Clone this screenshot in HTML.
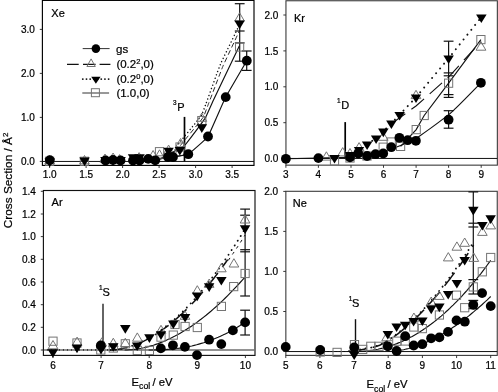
<!DOCTYPE html>
<html><head><meta charset="utf-8"><title>Cross sections</title>
<style>html,body{margin:0;padding:0;background:#fff;}svg{display:block;filter:blur(0.4px);}text{font-family:"Liberation Sans", sans-serif;fill:#000;stroke:#000;stroke-width:.22px;}</style>
</head><body>
<svg width="498" height="392" viewBox="0 0 498 392">
<rect width="498" height="392" fill="#fff"/>
<rect x="42.4" y="0.4" width="211.6" height="165.0" fill="none" stroke="#000" stroke-width="1.15"/>
<path d="M49.6 165.4v2.6" stroke="#222" stroke-width="0.9"/>
<text x="49.6" y="178.2" font-size="10" text-anchor="middle" >1.0</text>
<path d="M86.1 165.4v2.6" stroke="#222" stroke-width="0.9"/>
<text x="86.1" y="178.2" font-size="10" text-anchor="middle" >1.5</text>
<path d="M122.6 165.4v2.6" stroke="#222" stroke-width="0.9"/>
<text x="122.6" y="178.2" font-size="10" text-anchor="middle" >2.0</text>
<path d="M159.1 165.4v2.6" stroke="#222" stroke-width="0.9"/>
<text x="159.1" y="178.2" font-size="10" text-anchor="middle" >2.5</text>
<path d="M195.6 165.4v2.6" stroke="#222" stroke-width="0.9"/>
<text x="195.6" y="178.2" font-size="10" text-anchor="middle" >3.0</text>
<path d="M232.1 165.4v2.6" stroke="#222" stroke-width="0.9"/>
<text x="232.1" y="178.2" font-size="10" text-anchor="middle" >3.5</text>
<path d="M42.4 161.4h-2.6" stroke="#222" stroke-width="0.9"/>
<text x="34.8" y="165.0" font-size="10" text-anchor="end" >0.0</text>
<path d="M42.4 117.4h-2.6" stroke="#222" stroke-width="0.9"/>
<text x="34.8" y="121.0" font-size="10" text-anchor="end" >1.0</text>
<path d="M42.4 73.4h-2.6" stroke="#222" stroke-width="0.9"/>
<text x="34.8" y="77.0" font-size="10" text-anchor="end" >2.0</text>
<path d="M42.4 29.4h-2.6" stroke="#222" stroke-width="0.9"/>
<text x="34.8" y="33.0" font-size="10" text-anchor="end" >3.0</text>
<path d="M42.4 161.45H254.0" stroke="#111" stroke-width="1.0"/>
<text x="51.3" y="17.1" font-size="11" text-anchor="start" >Xe</text>
<path d="M184.5 116.9V161.4" stroke="#000" stroke-width="1.7"/>
<text x="177.2" y="111.0" font-size="11" text-anchor="start" >P</text>
<text x="172.9" y="105.4" font-size="6.4" text-anchor="start" >3</text>
<path d="M148.2 158.9L155.2 160.3L168.0 157.0L173.0 157.0L188.3 154.2" fill="none" stroke="#111" stroke-width="1.15"/>
<path d="M173.0 157.0C173.6 156.9 186.9 155.0 188.3 154.2C189.7 153.4 206.5 138.8 208.0 136.5C209.5 134.2 224.1 100.1 225.7 97.1C227.3 94.1 246.0 62.2 246.8 60.7" fill="none" stroke="#111" stroke-width="1.15"/>
<path d="M170.0 159.5C170.3 158.9 177.5 145.2 178.6 143.7C179.7 142.2 196.1 122.2 197.0 121.1C197.9 120.0 201.2 115.8 201.6 115.1C202.0 114.4 205.5 105.0 206.2 103.0C206.9 101.0 219.0 67.6 220.3 64.5C221.6 61.4 238.2 27.5 238.9 26.0" fill="none" stroke="#111" stroke-width="1.5" stroke-dasharray="0.01 3.6" stroke-linecap="round"/>
<path d="M172.0 159.5C172.3 158.9 179.5 146.8 180.6 145.3C181.7 143.8 198.1 123.8 199.0 122.7C199.9 121.6 203.2 117.5 203.6 116.7C204.0 115.9 208.0 105.0 208.8 103.0C209.6 101.0 221.6 69.4 222.8 66.5C224.0 63.6 238.7 32.4 239.4 31.0" fill="none" stroke="#111" stroke-width="0.9" stroke-dasharray="5 3"/>
<path d="M160.0 159.0C161.0 158.5 182.9 146.9 184.4 145.6C185.9 144.3 197.6 128.6 198.5 127.4C199.4 126.2 205.4 117.7 206.0 116.6C206.6 115.5 212.2 102.8 213.5 100.0C214.8 97.2 238.3 48.2 239.3 46.0" fill="none" stroke="#111" stroke-width="1.15"/>
<path d="M239.7 3.7V61.2" stroke="#111" stroke-width="1.2" fill="none"/>
<path d="M234.8 3.7H244.6" stroke="#111" stroke-width="1.2" fill="none"/>
<path d="M234.8 31.0H244.6" stroke="#111" stroke-width="1.2" fill="none"/>
<path d="M234.8 42.9H244.6" stroke="#111" stroke-width="1.2" fill="none"/>
<path d="M234.8 61.2H244.6" stroke="#111" stroke-width="1.2" fill="none"/>
<path d="M246.7 51.0V70.4" stroke="#111" stroke-width="1.2" fill="none"/>
<path d="M241.8 51.0H251.6" stroke="#111" stroke-width="1.2" fill="none"/>
<path d="M241.8 70.4H251.6" stroke="#111" stroke-width="1.2" fill="none"/>
<rect x="45.5" y="157.2" width="8.2" height="8.2" fill="none" stroke="#747474" stroke-width="1.0"/>
<rect x="80.3" y="157.2" width="8.2" height="8.2" fill="none" stroke="#747474" stroke-width="1.0"/>
<rect x="155.4" y="147.6" width="8.2" height="8.2" fill="none" stroke="#747474" stroke-width="1.0"/>
<rect x="175.9" y="142.9" width="8.2" height="8.2" fill="none" stroke="#747474" stroke-width="1.0"/>
<rect x="197.7" y="116.5" width="8.2" height="8.2" fill="none" stroke="#747474" stroke-width="1.0"/>
<rect x="235.5" y="42.9" width="8.2" height="8.2" fill="none" stroke="#747474" stroke-width="1.0"/>
<path d="M49.6 155.5L54.5 163.8L44.8 163.8Z" fill="none" stroke="#747474" stroke-width="1.0"/>
<path d="M84.5 155.5L89.3 163.8L79.7 163.8Z" fill="none" stroke="#747474" stroke-width="1.0"/>
<path d="M105.0 154.0L109.8 162.3L100.2 162.3Z" fill="none" stroke="#747474" stroke-width="1.0"/>
<path d="M113.1 153.0L117.9 161.3L108.2 161.3Z" fill="none" stroke="#747474" stroke-width="1.0"/>
<path d="M119.6 154.6L124.4 162.9L114.8 162.9Z" fill="none" stroke="#747474" stroke-width="1.0"/>
<path d="M139.1 152.6L143.9 160.9L134.2 160.9Z" fill="none" stroke="#747474" stroke-width="1.0"/>
<path d="M153.1 150.5L157.9 158.8L148.2 158.8Z" fill="none" stroke="#747474" stroke-width="1.0"/>
<path d="M159.5 149.8L164.3 158.1L154.7 158.1Z" fill="none" stroke="#747474" stroke-width="1.0"/>
<path d="M168.6 145.1L173.4 153.4L163.8 153.4Z" fill="none" stroke="#747474" stroke-width="1.0"/>
<path d="M180.6 138.5L185.4 146.8L175.8 146.8Z" fill="none" stroke="#747474" stroke-width="1.0"/>
<path d="M201.8 113.0L206.7 121.3L197.0 121.3Z" fill="none" stroke="#747474" stroke-width="1.0"/>
<path d="M239.6 12.8L244.4 21.1L234.8 21.1Z" fill="none" stroke="#747474" stroke-width="1.0"/>
<path d="M44.5 158.6L55.0 158.6L49.7 167.2Z" fill="#000"/>
<path d="M79.3 157.6L89.8 157.6L84.6 166.2Z" fill="#000"/>
<path d="M100.2 157.0L110.8 157.0L105.5 165.6Z" fill="#000"/>
<path d="M107.8 157.0L118.2 157.0L113.0 165.6Z" fill="#000"/>
<path d="M115.2 157.0L125.8 157.0L120.5 165.6Z" fill="#000"/>
<path d="M127.8 154.2L138.2 154.2L133.0 162.8Z" fill="#000"/>
<path d="M134.2 154.2L144.8 154.2L139.5 162.8Z" fill="#000"/>
<path d="M163.3 147.7L173.8 147.7L168.6 156.3Z" fill="#000"/>
<path d="M174.6 147.0L185.1 147.0L179.8 155.6Z" fill="#000"/>
<path d="M196.6 124.3L207.1 124.3L201.8 132.9Z" fill="#000"/>
<path d="M234.3 20.6L244.8 20.6L239.6 29.2Z" fill="#000"/>
<circle cx="49.8" cy="160.1" r="4.9" fill="#000"/>
<circle cx="105.5" cy="160.5" r="4.9" fill="#000"/>
<circle cx="113.0" cy="160.0" r="4.9" fill="#000"/>
<circle cx="120.5" cy="160.5" r="4.9" fill="#000"/>
<circle cx="133.0" cy="160.5" r="4.9" fill="#000"/>
<circle cx="139.5" cy="160.5" r="4.9" fill="#000"/>
<circle cx="148.2" cy="158.9" r="4.9" fill="#000"/>
<circle cx="155.2" cy="160.3" r="4.9" fill="#000"/>
<circle cx="168.0" cy="157.0" r="4.9" fill="#000"/>
<circle cx="173.0" cy="157.0" r="4.9" fill="#000"/>
<circle cx="188.3" cy="154.2" r="4.9" fill="#000"/>
<circle cx="208.0" cy="136.5" r="4.9" fill="#000"/>
<circle cx="225.7" cy="97.1" r="4.9" fill="#000"/>
<circle cx="246.8" cy="60.7" r="4.9" fill="#000"/>
<path d="M82.7 48.6L109.6 48.6" fill="none" stroke="#333" stroke-width="1.0"/>
<circle cx="95.9" cy="48.6" r="4.3" fill="#000"/>
<path d="M67 64.4H78.7M83 64.4H95.6M99.6 64.4H110.4" stroke="#111" stroke-width="1.1"/>
<path d="M91.1 58.9L95.3 66.5L86.9 66.5Z" fill="none" stroke="#747474" stroke-width="1.0"/>
<path d="M82.8 79.1L110.5 79.1" fill="none" stroke="#111" stroke-width="1.9" stroke-dasharray="0.01 3.68" stroke-linecap="round"/>
<path d="M91.2 76.8L100.6 76.8L95.9 83.8Z" fill="#000"/>
<path d="M82.3 93.0L109.1 93.0" fill="none" stroke="#333" stroke-width="1.0"/>
<rect x="91.4" y="88.7" width="8.0" height="8.0" fill="none" stroke="#747474" stroke-width="1.0"/>
<text x="116.0" y="52.5" font-size="11.5" text-anchor="start" >gs</text>
<text x="116.4" y="68.4" font-size="11.5" text-anchor="start" >(0.2<tspan font-size="7.5" dy="-4.2">2</tspan><tspan dy="4.2">,0)</tspan></text>
<text x="116.4" y="83.3" font-size="11.5" text-anchor="start" >(0.2<tspan font-size="7.5" dy="-4.2">0</tspan><tspan dy="4.2">,0)</tspan></text>
<text x="116.4" y="97.0" font-size="11.5" text-anchor="start" >(1.0,0)</text>
<rect x="285.95" y="0.75" width="211.4" height="164.4" fill="none" stroke="#3a3a3a" stroke-width="1.1"/>
<path d="M285.9 165.2v2.6" stroke="#222" stroke-width="0.9"/>
<text x="285.9" y="178.0" font-size="10" text-anchor="middle" >3</text>
<path d="M318.4 165.2v2.6" stroke="#222" stroke-width="0.9"/>
<text x="318.4" y="178.0" font-size="10" text-anchor="middle" >4</text>
<path d="M351.0 165.2v2.6" stroke="#222" stroke-width="0.9"/>
<text x="351.0" y="178.0" font-size="10" text-anchor="middle" >5</text>
<path d="M383.5 165.2v2.6" stroke="#222" stroke-width="0.9"/>
<text x="383.5" y="178.0" font-size="10" text-anchor="middle" >6</text>
<path d="M416.1 165.2v2.6" stroke="#222" stroke-width="0.9"/>
<text x="416.1" y="178.0" font-size="10" text-anchor="middle" >7</text>
<path d="M448.6 165.2v2.6" stroke="#222" stroke-width="0.9"/>
<text x="448.6" y="178.0" font-size="10" text-anchor="middle" >8</text>
<path d="M481.2 165.2v2.6" stroke="#222" stroke-width="0.9"/>
<text x="481.2" y="178.0" font-size="10" text-anchor="middle" >9</text>
<path d="M285.95 158.6h-2.6" stroke="#222" stroke-width="0.9"/>
<text x="278.3" y="162.2" font-size="10" text-anchor="end" >0.0</text>
<path d="M285.95 122.7h-2.6" stroke="#222" stroke-width="0.9"/>
<text x="278.3" y="126.3" font-size="10" text-anchor="end" >0.5</text>
<path d="M285.95 86.8h-2.6" stroke="#222" stroke-width="0.9"/>
<text x="278.3" y="90.4" font-size="10" text-anchor="end" >1.0</text>
<path d="M285.95 50.9h-2.6" stroke="#222" stroke-width="0.9"/>
<text x="278.3" y="54.5" font-size="10" text-anchor="end" >1.5</text>
<path d="M285.95 15.0h-2.6" stroke="#222" stroke-width="0.9"/>
<text x="278.3" y="18.6" font-size="10" text-anchor="end" >2.0</text>
<path d="M285.95 158.45H497.3" stroke="#111" stroke-width="1.0"/>
<text x="294.0" y="22.2" font-size="11" text-anchor="start" >Kr</text>
<path d="M345.2 122.1V158.6" stroke="#000" stroke-width="1.7"/>
<text x="341.2" y="109.2" font-size="11" text-anchor="start" >D</text>
<text x="337.0" y="102.9" font-size="6.5" text-anchor="start" >1</text>
<path d="M285.9 158.8L318.4 158.1L350.0 157.4L358.2 153.5L367.1 156.0L375.5 154.2L383.2 153.5" fill="none" stroke="#111" stroke-width="1.15"/>
<path d="M375.5 154.2C378.1 153.3 385.9 150.9 391.3 149.0C396.7 147.1 403.1 144.6 407.7 142.5C412.3 140.4 412.9 140.5 419.0 136.4C425.1 132.3 438.5 122.5 444.5 117.9C450.5 113.3 448.9 114.8 455.0 108.9C461.1 103.1 476.6 87.2 480.9 82.8" fill="none" stroke="#111" stroke-width="1.15"/>
<path d="M383 131.5L394.5 121.5L416 106L448.6 77L481 41.5" fill="none" stroke="#111" stroke-width="1.1" stroke-dasharray="16.5 7.5" stroke-dashoffset="11.93"/>
<path d="M367.1 144.2L376.1 138.2L383.3 131.4L391.4 123.3L399.6 114.7L416.0 97.3L448.6 58.3L481.3 17.2" fill="none" stroke="#111" stroke-width="2.0" stroke-dasharray="0.01 6.2" stroke-linecap="round"/>
<path d="M400.6 146.4L416.2 129.6L424.2 115.5L448.6 83.2L480.9 39.6" fill="none" stroke="#111" stroke-width="1.15"/>
<path d="M448.6 41.2V97.4" stroke="#111" stroke-width="1.2" fill="none"/>
<path d="M443.7 41.2H453.5" stroke="#111" stroke-width="1.2" fill="none"/>
<path d="M443.7 72.9H453.5" stroke="#111" stroke-width="1.2" fill="none"/>
<path d="M443.7 75.8H453.5" stroke="#111" stroke-width="1.2" fill="none"/>
<path d="M443.7 94.6H453.5" stroke="#111" stroke-width="1.2" fill="none"/>
<path d="M443.7 97.4H453.5" stroke="#111" stroke-width="1.2" fill="none"/>
<path d="M448.6 110.7V128.2" stroke="#111" stroke-width="1.2" fill="none"/>
<path d="M443.7 110.7H453.5" stroke="#111" stroke-width="1.2" fill="none"/>
<path d="M443.7 128.2H453.5" stroke="#111" stroke-width="1.2" fill="none"/>
<rect x="330.4" y="156.9" width="8.2" height="8.2" fill="none" stroke="#747474" stroke-width="1.0"/>
<rect x="345.9" y="153.9" width="8.2" height="8.2" fill="none" stroke="#747474" stroke-width="1.0"/>
<rect x="362.9" y="151.9" width="8.2" height="8.2" fill="none" stroke="#747474" stroke-width="1.0"/>
<rect x="379.1" y="143.1" width="8.2" height="8.2" fill="none" stroke="#747474" stroke-width="1.0"/>
<rect x="387.1" y="137.9" width="8.2" height="8.2" fill="none" stroke="#747474" stroke-width="1.0"/>
<rect x="396.5" y="142.3" width="8.2" height="8.2" fill="none" stroke="#747474" stroke-width="1.0"/>
<rect x="412.1" y="125.5" width="8.2" height="8.2" fill="none" stroke="#747474" stroke-width="1.0"/>
<rect x="420.1" y="111.4" width="8.2" height="8.2" fill="none" stroke="#747474" stroke-width="1.0"/>
<rect x="444.5" y="79.1" width="8.2" height="8.2" fill="none" stroke="#747474" stroke-width="1.0"/>
<rect x="476.8" y="35.5" width="8.2" height="8.2" fill="none" stroke="#747474" stroke-width="1.0"/>
<path d="M326.4 151.8L331.2 160.1L321.5 160.1Z" fill="none" stroke="#747474" stroke-width="1.0"/>
<path d="M342.7 147.6L347.6 155.9L337.8 155.9Z" fill="none" stroke="#747474" stroke-width="1.0"/>
<path d="M350.0 148.5L354.9 156.8L345.1 156.8Z" fill="none" stroke="#747474" stroke-width="1.0"/>
<path d="M359.1 142.6L364.0 150.9L354.2 150.9Z" fill="none" stroke="#747474" stroke-width="1.0"/>
<path d="M383.2 132.0L388.1 140.3L378.3 140.3Z" fill="none" stroke="#747474" stroke-width="1.0"/>
<path d="M416.0 90.3L420.9 98.6L411.1 98.6Z" fill="none" stroke="#747474" stroke-width="1.0"/>
<path d="M481.0 41.9L485.9 50.2L476.1 50.2Z" fill="none" stroke="#747474" stroke-width="1.0"/>
<path d="M329.2 155.0L339.8 155.0L334.5 163.6Z" fill="#000"/>
<path d="M344.8 152.0L355.2 152.0L350.0 160.6Z" fill="#000"/>
<path d="M353.8 147.0L364.2 147.0L359.0 155.6Z" fill="#000"/>
<path d="M361.9 141.4L372.4 141.4L367.1 150.0Z" fill="#000"/>
<path d="M370.9 135.4L381.4 135.4L376.1 144.0Z" fill="#000"/>
<path d="M378.1 128.6L388.6 128.6L383.3 137.2Z" fill="#000"/>
<path d="M386.1 120.5L396.6 120.5L391.4 129.1Z" fill="#000"/>
<path d="M394.4 111.9L404.9 111.9L399.6 120.5Z" fill="#000"/>
<path d="M410.8 94.5L421.2 94.5L416.0 103.1Z" fill="#000"/>
<path d="M443.4 55.5L453.9 55.5L448.6 64.1Z" fill="#000"/>
<path d="M476.1 14.4L486.6 14.4L481.3 23.0Z" fill="#000"/>
<circle cx="285.9" cy="158.8" r="4.9" fill="#000"/>
<circle cx="318.4" cy="158.1" r="4.9" fill="#000"/>
<circle cx="350.0" cy="157.4" r="4.9" fill="#000"/>
<circle cx="358.2" cy="153.5" r="4.9" fill="#000"/>
<circle cx="367.1" cy="156.0" r="4.9" fill="#000"/>
<circle cx="375.5" cy="154.2" r="4.9" fill="#000"/>
<circle cx="383.2" cy="153.5" r="4.9" fill="#000"/>
<circle cx="391.3" cy="147.2" r="4.9" fill="#000"/>
<circle cx="399.4" cy="137.8" r="4.9" fill="#000"/>
<circle cx="407.7" cy="140.2" r="4.9" fill="#000"/>
<circle cx="415.9" cy="140.8" r="4.9" fill="#000"/>
<circle cx="448.6" cy="119.7" r="4.9" fill="#000"/>
<circle cx="480.9" cy="82.8" r="4.9" fill="#000"/>
<rect x="43.4" y="190.5" width="211.6" height="164.9" fill="none" stroke="#111" stroke-width="1.15"/>
<path d="M53.0 355.45v2.6" stroke="#222" stroke-width="0.9"/>
<text x="53.0" y="368.9" font-size="10" text-anchor="middle" >6</text>
<path d="M101.1 355.45v2.6" stroke="#222" stroke-width="0.9"/>
<text x="101.1" y="368.9" font-size="10" text-anchor="middle" >7</text>
<path d="M149.2 355.45v2.6" stroke="#222" stroke-width="0.9"/>
<text x="149.2" y="368.9" font-size="10" text-anchor="middle" >8</text>
<path d="M197.2 355.45v2.6" stroke="#222" stroke-width="0.9"/>
<text x="197.2" y="368.9" font-size="10" text-anchor="middle" >9</text>
<path d="M245.4 355.45v2.6" stroke="#222" stroke-width="0.9"/>
<text x="245.4" y="368.9" font-size="10" text-anchor="middle" >10</text>
<path d="M43.4 350.0h-2.6" stroke="#222" stroke-width="0.9"/>
<text x="35.8" y="353.6" font-size="10" text-anchor="end" >0.0</text>
<path d="M43.4 327.3h-2.6" stroke="#222" stroke-width="0.9"/>
<text x="35.8" y="330.9" font-size="10" text-anchor="end" >0.2</text>
<path d="M43.4 304.7h-2.6" stroke="#222" stroke-width="0.9"/>
<text x="35.8" y="308.3" font-size="10" text-anchor="end" >0.4</text>
<path d="M43.4 282.0h-2.6" stroke="#222" stroke-width="0.9"/>
<text x="35.8" y="285.6" font-size="10" text-anchor="end" >0.6</text>
<path d="M43.4 259.3h-2.6" stroke="#222" stroke-width="0.9"/>
<text x="35.8" y="262.9" font-size="10" text-anchor="end" >0.8</text>
<path d="M43.4 236.6h-2.6" stroke="#222" stroke-width="0.9"/>
<text x="35.8" y="240.2" font-size="10" text-anchor="end" >1.0</text>
<path d="M43.4 214.0h-2.6" stroke="#222" stroke-width="0.9"/>
<text x="35.8" y="217.6" font-size="10" text-anchor="end" >1.2</text>
<path d="M43.4 191.3h-2.6" stroke="#222" stroke-width="0.9"/>
<text x="35.8" y="194.9" font-size="10" text-anchor="end" >1.4</text>
<path d="M43.4 349.9H255.0" stroke="#6e6e6e" stroke-width="1.5"/>
<text x="51.6" y="205.9" font-size="11" text-anchor="start" >Ar</text>
<path d="M103 303.8V350" stroke="#111" stroke-width="1.3"/>
<text x="102.4" y="295.8" font-size="11" text-anchor="start" >S</text>
<text x="99.1" y="289.9" font-size="6.5" text-anchor="start" >1</text>
<path d="M148.6 350.0L151.0 350.0L153.4 350.0L155.8 349.9L158.2 349.9L160.6 349.8L163.0 349.7L165.4 349.6L167.8 349.4L170.2 349.2L172.6 349.0L175.0 348.8L177.4 348.5L179.8 348.1L182.2 347.8L184.6 347.4L187.0 346.9L189.4 346.5L191.8 346.0L194.2 345.4L196.6 344.8L198.9 344.1L201.3 343.4L203.7 342.7L206.1 341.9L208.5 341.1L210.9 340.2L213.3 339.3L215.7 338.3L218.1 337.3L220.5 336.2L222.9 335.1L225.3 333.9L227.7 332.7L230.1 331.4L232.5 330.0L234.9 328.6L237.3 327.2L239.7 325.7L242.1 324.1L244.5 322.5" fill="none" stroke="#111" stroke-width="1.15"/>
<path d="M124.6 350.0L127.0 350.0L129.4 349.8L131.8 349.7L134.2 349.4L136.6 349.1L139.0 348.7L141.4 348.3L143.8 347.8L146.2 347.2L148.6 346.6L151.0 345.9L153.4 345.2L155.8 344.4L158.2 343.6L160.6 342.6L163.0 341.7L165.4 340.7L167.8 339.6L170.2 338.5L172.6 337.3L175.0 336.1L177.4 334.8L179.8 333.4L182.2 332.0L184.6 330.6L187.0 329.1L189.4 327.5L191.8 325.9L194.2 324.3L196.6 322.6L198.9 320.8L201.3 319.0L203.7 317.1L206.1 315.2L208.5 313.2L210.9 311.2L213.3 309.1L215.7 307.0L218.1 304.8L220.5 302.6L222.9 300.3L225.3 298.0L227.7 295.6L230.1 293.2L232.5 290.7L234.9 288.2L237.3 285.6L239.7 283.0L242.1 280.3L244.5 277.6" fill="none" stroke="#111" stroke-width="1.15"/>
<path d="M43.4 349.9L110.2 349.9" fill="none" stroke="#000" stroke-width="1.2" stroke-dasharray="0.01 4" stroke-linecap="round"/>
<path d="M110.2 350.0L112.6 349.9L115.0 349.8L117.4 349.5L119.8 349.1L122.2 348.7L124.6 348.1L127.0 347.5L129.4 346.8L131.8 346.1L134.2 345.2L136.6 344.3L139.0 343.3L141.4 342.2L143.8 341.1L146.2 339.9L148.6 338.6L151.0 337.2L153.4 335.8L155.8 334.3L158.2 332.8L160.6 331.1L163.0 329.4L165.4 327.7L167.8 325.9L170.2 324.0L172.6 322.0L175.0 320.0L177.4 317.9L179.8 315.7L182.2 313.5L184.6 311.2L187.0 308.9L189.4 306.5L191.8 304.0L194.2 301.5L196.6 298.9L198.9 296.2L201.3 293.5L203.7 290.7L206.1 287.9L208.5 285.0L210.9 282.0L213.3 279.0L215.7 275.9L218.1 272.8L220.5 269.6L222.9 266.3L225.3 263.0L227.7 259.6" fill="none" stroke="#111" stroke-width="1.55" stroke-dasharray="16.5 7.5"/>
<path d="M228.3 260.4L230.7 256.9L233.1 253.4L235.5 249.9L237.9 246.3L240.3 242.6L242.7 238.8L245.1 235.0" fill="none" stroke="#111" stroke-width="1.0" stroke-dasharray="3 4.2"/>
<path d="M110.2 350.0L112.6 349.9L115.0 349.7L117.4 349.5L119.8 349.1L122.2 348.6L124.6 348.1L127.0 347.4L129.4 346.7L131.8 345.9L134.2 345.0L136.6 344.1L139.0 343.0L141.4 341.9L143.8 340.7L146.2 339.5L148.6 338.1L151.0 336.7L153.4 335.3L155.8 333.7L158.2 332.1L160.6 330.4L163.0 328.6L165.4 326.8L167.8 324.9L170.2 322.9L172.6 320.9L175.0 318.8L177.4 316.6L179.8 314.4L182.2 312.1L184.6 309.7L187.0 307.3L189.4 304.8L191.8 302.2L194.2 299.6L196.6 296.9L198.9 294.1L201.3 291.3L203.7 288.4L206.1 285.4L208.5 282.4L210.9 279.3L213.3 276.2L215.7 273.0L218.1 269.7L220.5 266.4L222.9 263.0L225.3 259.5L227.7 256.0L230.1 252.4L232.5 248.8L234.9 245.1L237.3 241.3L239.7 237.5L242.1 233.6L244.5 229.7" fill="none" stroke="#111" stroke-width="1.9" stroke-dasharray="0.01 5.6" stroke-linecap="round"/>
<path d="M245.1 209.1V296.0" stroke="#111" stroke-width="1.2" fill="none"/>
<path d="M240.2 209.1H250.0" stroke="#111" stroke-width="1.2" fill="none"/>
<path d="M240.2 215.2H250.0" stroke="#111" stroke-width="1.2" fill="none"/>
<path d="M240.2 249.7H250.0" stroke="#111" stroke-width="1.2" fill="none"/>
<path d="M240.2 251.8H250.0" stroke="#111" stroke-width="1.2" fill="none"/>
<path d="M240.2 296.0H250.0" stroke="#111" stroke-width="1.2" fill="none"/>
<path d="M245.1 310.2V335.0" stroke="#111" stroke-width="1.2" fill="none"/>
<path d="M240.2 310.2H250.0" stroke="#111" stroke-width="1.2" fill="none"/>
<path d="M240.2 335.0H250.0" stroke="#111" stroke-width="1.2" fill="none"/>
<rect x="48.9" y="337.1" width="8.2" height="8.2" fill="none" stroke="#747474" stroke-width="1.0"/>
<rect x="72.9" y="338.9" width="8.2" height="8.2" fill="none" stroke="#747474" stroke-width="1.0"/>
<rect x="96.7" y="345.9" width="8.2" height="8.2" fill="none" stroke="#747474" stroke-width="1.0"/>
<rect x="109.2" y="343.9" width="8.2" height="8.2" fill="none" stroke="#747474" stroke-width="1.0"/>
<rect x="121.2" y="339.7" width="8.2" height="8.2" fill="none" stroke="#747474" stroke-width="1.0"/>
<rect x="133.2" y="346.3" width="8.2" height="8.2" fill="none" stroke="#747474" stroke-width="1.0"/>
<rect x="145.3" y="346.3" width="8.2" height="8.2" fill="none" stroke="#747474" stroke-width="1.0"/>
<rect x="156.9" y="333.0" width="8.2" height="8.2" fill="none" stroke="#747474" stroke-width="1.0"/>
<rect x="169.2" y="331.0" width="8.2" height="8.2" fill="none" stroke="#747474" stroke-width="1.0"/>
<rect x="170.9" y="320.4" width="8.2" height="8.2" fill="none" stroke="#747474" stroke-width="1.0"/>
<rect x="181.0" y="322.4" width="8.2" height="8.2" fill="none" stroke="#747474" stroke-width="1.0"/>
<rect x="193.2" y="323.4" width="8.2" height="8.2" fill="none" stroke="#747474" stroke-width="1.0"/>
<rect x="217.3" y="302.3" width="8.2" height="8.2" fill="none" stroke="#747474" stroke-width="1.0"/>
<rect x="229.6" y="282.5" width="8.2" height="8.2" fill="none" stroke="#747474" stroke-width="1.0"/>
<rect x="241.0" y="269.4" width="8.2" height="8.2" fill="none" stroke="#747474" stroke-width="1.0"/>
<path d="M53.0 340.5L57.9 348.8L48.1 348.8Z" fill="none" stroke="#747474" stroke-width="1.0"/>
<path d="M77.1 337.1L81.9 345.4L72.2 345.4Z" fill="none" stroke="#747474" stroke-width="1.0"/>
<path d="M101.8 337.8L106.6 346.1L97.0 346.1Z" fill="none" stroke="#747474" stroke-width="1.0"/>
<path d="M113.3 338.2L118.1 346.5L108.5 346.5Z" fill="none" stroke="#747474" stroke-width="1.0"/>
<path d="M125.3 338.2L130.2 346.5L120.5 346.5Z" fill="none" stroke="#747474" stroke-width="1.0"/>
<path d="M137.3 332.9L142.2 341.2L132.5 341.2Z" fill="none" stroke="#747474" stroke-width="1.0"/>
<path d="M161.0 325.3L165.8 333.6L156.2 333.6Z" fill="none" stroke="#747474" stroke-width="1.0"/>
<path d="M185.0 311.0L189.8 319.3L180.2 319.3Z" fill="none" stroke="#747474" stroke-width="1.0"/>
<path d="M197.3 285.7L202.2 294.0L192.5 294.0Z" fill="none" stroke="#747474" stroke-width="1.0"/>
<path d="M209.2 279.0L214.0 287.3L204.3 287.3Z" fill="none" stroke="#747474" stroke-width="1.0"/>
<path d="M221.3 263.5L226.2 271.8L216.5 271.8Z" fill="none" stroke="#747474" stroke-width="1.0"/>
<path d="M233.9 258.7L238.8 267.0L229.1 267.0Z" fill="none" stroke="#747474" stroke-width="1.0"/>
<path d="M245.1 214.7L249.9 223.0L240.2 223.0Z" fill="none" stroke="#747474" stroke-width="1.0"/>
<path d="M47.6 349.2L58.1 349.2L52.9 357.8Z" fill="#000"/>
<path d="M71.8 344.6L82.2 344.6L77.0 353.2Z" fill="#000"/>
<path d="M95.8 346.0L106.2 346.0L101.0 354.6Z" fill="#000"/>
<path d="M108.0 343.2L118.5 343.2L113.3 351.8Z" fill="#000"/>
<path d="M120.0 325.1L130.6 325.1L125.3 333.7Z" fill="#000"/>
<path d="M131.9 342.4L142.4 342.4L137.2 351.0Z" fill="#000"/>
<path d="M144.2 334.3L154.7 334.3L149.4 342.9Z" fill="#000"/>
<path d="M155.8 331.3L166.2 331.3L161.0 339.9Z" fill="#000"/>
<path d="M168.1 320.5L178.6 320.5L173.3 329.1Z" fill="#000"/>
<path d="M179.8 313.9L190.3 313.9L185.1 322.5Z" fill="#000"/>
<path d="M191.9 292.6L202.4 292.6L197.2 301.2Z" fill="#000"/>
<path d="M203.9 283.3L214.4 283.3L209.2 291.9Z" fill="#000"/>
<path d="M216.1 277.0L226.6 277.0L221.3 285.6Z" fill="#000"/>
<path d="M239.8 225.3L250.3 225.3L245.1 233.9Z" fill="#000"/>
<circle cx="100.8" cy="345.4" r="4.9" fill="#000"/>
<circle cx="160.8" cy="348.4" r="4.9" fill="#000"/>
<circle cx="172.9" cy="345.3" r="4.9" fill="#000"/>
<circle cx="184.9" cy="346.9" r="4.9" fill="#000"/>
<circle cx="197.0" cy="355.1" r="4.9" fill="#000"/>
<circle cx="209.1" cy="339.7" r="4.9" fill="#000"/>
<circle cx="221.3" cy="344.1" r="4.9" fill="#000"/>
<circle cx="232.9" cy="330.4" r="4.9" fill="#000"/>
<circle cx="245.1" cy="322.4" r="4.9" fill="#000"/>
<rect x="285.85" y="191.3" width="211.4" height="164.1" fill="none" stroke="#3a3a3a" stroke-width="1.1"/>
<path d="M285.8 355.45v2.6" stroke="#222" stroke-width="0.9"/>
<text x="285.8" y="368.9" font-size="10" text-anchor="middle" >5</text>
<path d="M319.9 355.45v2.6" stroke="#222" stroke-width="0.9"/>
<text x="319.9" y="368.9" font-size="10" text-anchor="middle" >6</text>
<path d="M354.1 355.45v2.6" stroke="#222" stroke-width="0.9"/>
<text x="354.1" y="368.9" font-size="10" text-anchor="middle" >7</text>
<path d="M388.2 355.45v2.6" stroke="#222" stroke-width="0.9"/>
<text x="388.2" y="368.9" font-size="10" text-anchor="middle" >8</text>
<path d="M422.4 355.45v2.6" stroke="#222" stroke-width="0.9"/>
<text x="422.4" y="368.9" font-size="10" text-anchor="middle" >9</text>
<path d="M456.6 355.45v2.6" stroke="#222" stroke-width="0.9"/>
<text x="456.6" y="368.9" font-size="10" text-anchor="middle" >10</text>
<path d="M490.7 355.45v2.6" stroke="#222" stroke-width="0.9"/>
<text x="490.7" y="368.9" font-size="10" text-anchor="middle" >11</text>
<path d="M285.85 351.5h-2.6" stroke="#222" stroke-width="0.9"/>
<text x="278.2" y="355.1" font-size="10" text-anchor="end" >0.0</text>
<path d="M285.85 311.5h-2.6" stroke="#222" stroke-width="0.9"/>
<text x="278.2" y="315.1" font-size="10" text-anchor="end" >0.5</text>
<path d="M285.85 271.4h-2.6" stroke="#222" stroke-width="0.9"/>
<text x="278.2" y="275.1" font-size="10" text-anchor="end" >1.0</text>
<path d="M285.85 231.4h-2.6" stroke="#222" stroke-width="0.9"/>
<text x="278.2" y="235.0" font-size="10" text-anchor="end" >1.5</text>
<path d="M285.85 191.4h-2.6" stroke="#222" stroke-width="0.9"/>
<text x="278.2" y="195.0" font-size="10" text-anchor="end" >2.0</text>
<path d="M285.85 351.55H497.3" stroke="#111" stroke-width="1.0"/>
<text x="292.8" y="207.3" font-size="11" text-anchor="start" >Ne</text>
<path d="M355.5 319.2V351.5" stroke="#111" stroke-width="1.4"/>
<text x="351.9" y="306.6" font-size="11" text-anchor="start" >S</text>
<text x="348.7" y="300.8" font-size="6.5" text-anchor="start" >1</text>
<path d="M388.2 351.5L390.0 351.5L391.7 351.4L393.4 351.2L395.1 351.1L396.8 350.9L398.5 350.6L400.2 350.3L401.9 350.0L403.6 349.7L405.3 349.3L407.0 348.9L408.7 348.5L410.4 348.0L412.2 347.5L413.9 347.0L415.6 346.4L417.3 345.8L419.0 345.2L420.7 344.6L422.4 343.9L424.1 343.2L425.8 342.5L427.5 341.7L429.2 340.9L430.9 340.1L432.6 339.3L434.4 338.4L436.1 337.6L437.8 336.6L439.5 335.7L441.2 334.7L442.9 333.8L444.6 332.7L446.3 331.7L448.0 330.7L449.7 329.6L451.4 328.5L453.1 327.3L454.8 326.2L456.6 325.0L458.3 323.8L460.0 322.6L461.7 321.3L463.4 320.0L465.1 318.7L466.8 317.4L468.5 316.1L470.2 314.7L471.9 313.3L473.6 311.9L475.3 310.4L477.0 309.0L478.7 307.5L480.5 306.0L482.2 304.5L483.9 302.9L485.6 301.4L487.3 299.8L489.0 298.1L490.7 296.5" fill="none" stroke="#111" stroke-width="1.15"/>
<path d="M354.1 351.5L355.8 351.5L357.5 351.5L359.2 351.4L360.9 351.3L362.6 351.2L364.3 351.1L366.1 351.0L367.8 350.8L369.5 350.6L371.2 350.3L372.9 350.1L374.6 349.8L376.3 349.5L378.0 349.2L379.7 348.8L381.4 348.4L383.1 348.0L384.8 347.5L386.5 347.0L388.2 346.5L390.0 346.0L391.7 345.4L393.4 344.8L395.1 344.2L396.8 343.6L398.5 342.9L400.2 342.2L401.9 341.4L403.6 340.7L405.3 339.9L407.0 339.0L408.7 338.2L410.4 337.3L412.2 336.4L413.9 335.4L415.6 334.4L417.3 333.4L419.0 332.4L420.7 331.3L422.4 330.2L424.1 329.1L425.8 327.9L427.5 326.7L429.2 325.5L430.9 324.3L432.6 323.0L434.4 321.6L436.1 320.3L437.8 318.9L439.5 317.5L441.2 316.1L442.9 314.6L444.6 313.1L446.3 311.5L448.0 310.0L449.7 308.4L451.4 306.7L453.1 305.1L454.8 303.4L456.6 301.6L458.3 299.9L460.0 298.1L461.7 296.3L463.4 294.4L465.1 292.5L466.8 290.6L468.5 288.6L470.2 286.7L471.9 284.6L473.6 282.6L475.3 280.5L477.0 278.4L478.7 276.2L480.5 274.1L482.2 271.8L483.9 269.6L485.6 267.3L487.3 265.0L489.0 262.7L490.7 260.3" fill="none" stroke="#111" stroke-width="1.15"/>
<path d="M320.0 351.5L349.0 351.5" fill="none" stroke="#000" stroke-width="1.2" stroke-dasharray="0.01 4" stroke-linecap="round"/>
<path d="M349.0 351.5L360.0 349.9L371.0 348.0L379.7 345.3L381.4 344.4L383.1 343.5L384.8 342.5L386.5 341.5L388.2 340.4L390.0 339.3L391.7 338.2L393.4 337.0L395.1 335.8L396.8 334.5L398.5 333.3L400.2 331.9L401.9 330.6L403.6 329.2L405.3 327.7L407.0 326.3L408.7 324.8L410.4 323.2L412.2 321.6L413.9 320.0L415.6 318.4L417.3 316.7L419.0 315.0L420.7 313.3L422.4 311.5L424.1 309.7L425.8 307.9L427.5 306.0L429.2 304.1L430.9 302.2L432.6 300.3L434.4 298.3L436.1 296.3L437.8 294.2L439.5 292.2L441.2 290.1L442.9 287.9L444.6 285.8L446.3 283.6L448.0 281.4L449.7 279.2L451.4 276.9L453.1 274.6L454.8 272.3L456.6 269.9L458.3 267.6L460.0 265.2L461.7 262.7L463.4 260.3L465.1 257.8L466.8 255.3L468.5 252.7L470.2 250.2L471.9 247.6L473.6 245.0" fill="none" stroke="#111" stroke-width="1.55" stroke-dasharray="16.5 7.5"/>
<path d="M349.0 351.1L360.0 349.5L371.0 347.6L379.7 345.1L381.4 344.2L383.1 343.2L384.8 342.2L386.5 341.2L388.2 340.1L390.0 339.0L391.7 337.8L393.4 336.6L395.1 335.4L396.8 334.1L398.5 332.7L400.2 331.4L401.9 330.0L403.6 328.5L405.3 327.1L407.0 325.6L408.7 324.0L410.4 322.4L412.2 320.8L413.9 319.2L415.6 317.5L417.3 315.8L419.0 314.0L420.7 312.2L422.4 310.4L424.1 308.6L425.8 306.7L427.5 304.8L429.2 302.8L430.9 300.9L432.6 298.9L434.4 296.8L436.1 294.7L437.8 292.7L439.5 290.5L441.2 288.4L442.9 286.2L444.6 284.0L446.3 281.7L448.0 279.5L449.7 277.2L451.4 274.8L453.1 272.5L454.8 270.1L456.6 267.7L458.3 265.2L460.0 262.8L461.7 260.3L463.4 257.8L465.1 255.2L466.8 252.6L468.5 250.0L470.2 247.4L471.9 244.7L473.6 242.1" fill="none" stroke="#111" stroke-width="1.9" stroke-dasharray="0.01 5.6" stroke-linecap="round"/>
<path d="M473.3 191.9V294.0" stroke="#111" stroke-width="1.2" fill="none"/>
<path d="M468.4 191.9H478.2" stroke="#111" stroke-width="1.2" fill="none"/>
<path d="M468.4 223.2H478.2" stroke="#111" stroke-width="1.2" fill="none"/>
<path d="M468.4 227.0H478.2" stroke="#111" stroke-width="1.2" fill="none"/>
<path d="M468.4 279.6H478.2" stroke="#111" stroke-width="1.2" fill="none"/>
<path d="M468.4 294.0H478.2" stroke="#111" stroke-width="1.2" fill="none"/>
<path d="M473.3 300.4V308.7" stroke="#111" stroke-width="1.2" fill="none"/>
<path d="M468.4 300.4H478.2" stroke="#111" stroke-width="1.2" fill="none"/>
<path d="M468.4 308.7H478.2" stroke="#111" stroke-width="1.2" fill="none"/>
<rect x="316.1" y="347.9" width="8.2" height="8.2" fill="none" stroke="#747474" stroke-width="1.0"/>
<rect x="333.0" y="348.3" width="8.2" height="8.2" fill="none" stroke="#747474" stroke-width="1.0"/>
<rect x="350.4" y="340.5" width="8.2" height="8.2" fill="none" stroke="#747474" stroke-width="1.0"/>
<rect x="358.6" y="345.3" width="8.2" height="8.2" fill="none" stroke="#747474" stroke-width="1.0"/>
<rect x="366.7" y="342.2" width="8.2" height="8.2" fill="none" stroke="#747474" stroke-width="1.0"/>
<rect x="374.9" y="342.2" width="8.2" height="8.2" fill="none" stroke="#747474" stroke-width="1.0"/>
<rect x="392.7" y="337.1" width="8.2" height="8.2" fill="none" stroke="#747474" stroke-width="1.0"/>
<rect x="401.1" y="336.9" width="8.2" height="8.2" fill="none" stroke="#747474" stroke-width="1.0"/>
<rect x="409.7" y="322.9" width="8.2" height="8.2" fill="none" stroke="#747474" stroke-width="1.0"/>
<rect x="418.2" y="324.5" width="8.2" height="8.2" fill="none" stroke="#747474" stroke-width="1.0"/>
<rect x="435.3" y="310.9" width="8.2" height="8.2" fill="none" stroke="#747474" stroke-width="1.0"/>
<rect x="452.4" y="291.1" width="8.2" height="8.2" fill="none" stroke="#747474" stroke-width="1.0"/>
<rect x="460.6" y="303.6" width="8.2" height="8.2" fill="none" stroke="#747474" stroke-width="1.0"/>
<rect x="469.2" y="282.8" width="8.2" height="8.2" fill="none" stroke="#747474" stroke-width="1.0"/>
<rect x="478.2" y="267.7" width="8.2" height="8.2" fill="none" stroke="#747474" stroke-width="1.0"/>
<rect x="486.6" y="253.4" width="8.2" height="8.2" fill="none" stroke="#747474" stroke-width="1.0"/>
<path d="M386.6 332.5L391.5 340.8L381.8 340.8Z" fill="none" stroke="#747474" stroke-width="1.0"/>
<path d="M413.9 313.0L418.8 321.3L409.0 321.3Z" fill="none" stroke="#747474" stroke-width="1.0"/>
<path d="M431.2 297.0L436.1 305.3L426.3 305.3Z" fill="none" stroke="#747474" stroke-width="1.0"/>
<path d="M439.3 291.1L444.2 299.4L434.4 299.4Z" fill="none" stroke="#747474" stroke-width="1.0"/>
<path d="M448.3 252.6L453.2 260.9L443.4 260.9Z" fill="none" stroke="#747474" stroke-width="1.0"/>
<path d="M456.9 241.9L461.8 250.2L452.0 250.2Z" fill="none" stroke="#747474" stroke-width="1.0"/>
<path d="M464.7 238.0L469.6 246.3L459.8 246.3Z" fill="none" stroke="#747474" stroke-width="1.0"/>
<path d="M473.8 253.1L478.7 261.4L468.9 261.4Z" fill="none" stroke="#747474" stroke-width="1.0"/>
<path d="M482.4 227.1L487.2 235.4L477.5 235.4Z" fill="none" stroke="#747474" stroke-width="1.0"/>
<path d="M490.7 220.6L495.6 228.9L485.8 228.9Z" fill="none" stroke="#747474" stroke-width="1.0"/>
<path d="M348.9 351.5L359.4 351.5L354.2 360.1Z" fill="#000"/>
<path d="M382.6 330.9L393.1 330.9L387.8 339.5Z" fill="#000"/>
<path d="M391.4 323.5L401.9 323.5L396.6 332.1Z" fill="#000"/>
<path d="M399.9 321.7L410.4 321.7L405.2 330.3Z" fill="#000"/>
<path d="M408.4 317.9L418.9 317.9L413.6 326.5Z" fill="#000"/>
<path d="M417.1 317.4L427.6 317.4L422.3 326.0Z" fill="#000"/>
<path d="M425.9 305.6L436.4 305.6L431.2 314.2Z" fill="#000"/>
<path d="M434.1 303.6L444.6 303.6L439.3 312.2Z" fill="#000"/>
<path d="M442.9 291.0L453.4 291.0L448.2 299.6Z" fill="#000"/>
<path d="M451.6 279.9L462.1 279.9L456.9 288.5Z" fill="#000"/>
<path d="M459.4 257.0L469.9 257.0L464.7 265.6Z" fill="#000"/>
<path d="M468.1 206.8L478.6 206.8L473.3 215.4Z" fill="#000"/>
<path d="M477.1 221.9L487.6 221.9L482.4 230.5Z" fill="#000"/>
<path d="M485.4 215.3L495.9 215.3L490.7 223.9Z" fill="#000"/>
<circle cx="285.7" cy="346.9" r="4.9" fill="#000"/>
<circle cx="320.2" cy="350.0" r="4.9" fill="#000"/>
<circle cx="354.2" cy="347.4" r="4.9" fill="#000"/>
<circle cx="387.8" cy="346.3" r="4.9" fill="#000"/>
<circle cx="396.6" cy="351.0" r="4.9" fill="#000"/>
<circle cx="405.2" cy="336.2" r="4.9" fill="#000"/>
<circle cx="413.7" cy="345.5" r="4.9" fill="#000"/>
<circle cx="422.3" cy="344.2" r="4.9" fill="#000"/>
<circle cx="431.1" cy="338.3" r="4.9" fill="#000"/>
<circle cx="439.4" cy="337.4" r="4.9" fill="#000"/>
<circle cx="448.0" cy="331.9" r="4.9" fill="#000"/>
<circle cx="456.5" cy="320.4" r="4.9" fill="#000"/>
<circle cx="464.8" cy="321.7" r="4.9" fill="#000"/>
<circle cx="473.3" cy="304.8" r="4.9" fill="#000"/>
<circle cx="482.1" cy="293.1" r="4.9" fill="#000"/>
<circle cx="490.7" cy="306.1" r="4.9" fill="#000"/>
<text transform="translate(12.2 228.2) rotate(-90)" font-size="11.8" text-anchor="start">Cross Section / Å<tspan font-size="8" dy="-4.5">2</tspan></text>
<text x="131.5" y="385.6" font-size="11.3" text-anchor="start" >E<tspan font-size="8.7" dy="3.3">col</tspan><tspan dy="-3.3" dx="-0.9"> / eV</tspan></text>
<text x="366.5" y="388.2" font-size="11.3" text-anchor="start" >E<tspan font-size="8.7" dy="3.3">col</tspan><tspan dy="-3.3" dx="-0.9"> / eV</tspan></text>
</svg>
</body></html>
